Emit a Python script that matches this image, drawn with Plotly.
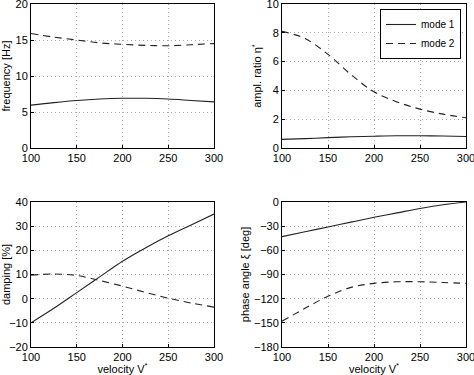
import plotly.graph_objects as go

velocity = [100, 125, 150, 175, 200, 225, 250, 275, 300]
freq_mode1 = [5.95, 6.3, 6.6, 6.8, 6.9, 6.9, 6.8, 6.6, 6.4]
freq_mode2 = [15.9, 15.4, 15.0, 14.6, 14.4, 14.25, 14.2, 14.35, 14.5]
ampl_mode1 = [0.6, 0.65, 0.72, 0.78, 0.82, 0.85, 0.85, 0.83, 0.8]
ampl_mode2 = [8.1, 7.6, 6.5, 5.1, 3.9, 3.2, 2.7, 2.35, 2.1]
damp_mode1 = [-10, -4, 2.5, 9, 15.5, 21, 26, 30.5, 35]
damp_mode2 = [9.7, 10.2, 9.6, 7.5, 5.2, 2.6, 0.2, -1.8, -3.5]
phase_mode1 = [-43, -37, -31, -25, -19, -13.5, -8, -3.5, 0]
phase_mode2 = [-148, -132, -117, -106, -101, -99, -99, -100, -101]

W, H = 474, 375
def px_x(a, b):
    return [a / W, b / W]
def px_y(top, bot):
    return [1 - bot / H, 1 - top / H]

fig = go.Figure()
LC = "#222222"
panels = [
    ("x", "y", freq_mode1, freq_mode2),
    ("x2", "y2", ampl_mode1, ampl_mode2),
    ("x3", "y3", damp_mode1, damp_mode2),
    ("x4", "y4", phase_mode1, phase_mode2),
]
for i, (xa, ya, m1, m2) in enumerate(panels):
    fig.add_trace(go.Scatter(x=velocity, y=m1, mode="lines", name="mode 1",
                             line=dict(color=LC, width=1.1, shape="spline"),
                             xaxis=xa, yaxis=ya, showlegend=(i == 1)))
    fig.add_trace(go.Scatter(x=velocity, y=m2, mode="lines", name="mode 2",
                             line=dict(color=LC, width=1.1, dash="7px,5px", shape="spline"),
                             xaxis=xa, yaxis=ya, showlegend=(i == 1)))

axcommon = dict(showline=True, linecolor="black", linewidth=1, mirror=True,
                ticks="inside", ticklen=3, tickcolor="black", automargin=False,
                showgrid=True, gridcolor="#aaaaaa", griddash="1px,3px", gridwidth=1,
                zeroline=False, tickfont=dict(size=11, color="black"),
                ticklabeloverflow="allow")
xcommon = dict(axcommon, range=[100, 300], tickvals=[100, 150, 200, 250, 300])

fig.update_layout(
    width=W, height=H, margin=dict(l=0, r=0, t=0, b=0),
    paper_bgcolor="white", plot_bgcolor="white",
    font=dict(family="Liberation Sans, Arial, sans-serif", size=11, color="black"),
    xaxis=dict(xcommon, domain=px_x(31, 214), anchor="y"),
    yaxis=dict(axcommon, domain=px_y(4, 148), anchor="x", range=[0, 20], tickvals=[0, 5, 10, 15, 20],
               title=dict(text="frequency [Hz]", standoff=4, font=dict(size=11))),
    xaxis2=dict(xcommon, domain=px_x(282, 466), anchor="y2"),
    yaxis2=dict(axcommon, domain=px_y(4, 148), anchor="x2", range=[0, 10], tickvals=[0, 2, 4, 6, 8, 10],
                title=dict(text="ampl. ratio η<sup>*</sup>", standoff=2, font=dict(size=11))),
    xaxis3=dict(xcommon, domain=px_x(31, 214), anchor="y3",
                title=dict(text="velocity V<sup>*</sup>", standoff=2, font=dict(size=11))),
    yaxis3=dict(axcommon, domain=px_y(202, 347), anchor="x3", range=[-20, 40],
                tickvals=[-20, -10, 0, 10, 20, 30, 40], ticktext=["−20", "−10", "0", "10", "20", "30", "40"],
                title=dict(text="damping [%]", standoff=2, font=dict(size=11))),
    xaxis4=dict(xcommon, domain=px_x(282, 466), anchor="y4",
                title=dict(text="velocity V<sup>*</sup>", standoff=2, font=dict(size=11))),
    yaxis4=dict(axcommon, domain=px_y(202, 347), anchor="x4", range=[-180, 0],
                tickvals=[-180, -150, -120, -90, -60, -30, 0],
                ticktext=["−180", "−150", "−120", "−90", "−60", "−30", "0"],
                title=dict(text="phase angle ξ [deg]", standoff=2, font=dict(size=11))),
    legend=dict(x=461 / W, xanchor="right", y=1 - 9 / H, yanchor="top",
                bgcolor="white", bordercolor="black", borderwidth=1,
                font=dict(size=10), tracegroupgap=0, itemwidth=30),
)

fig.write_html("out.html", config={"displayModeBar": False},
               post_script="document.body.style.margin='0';document.body.style.overflow='hidden';")
